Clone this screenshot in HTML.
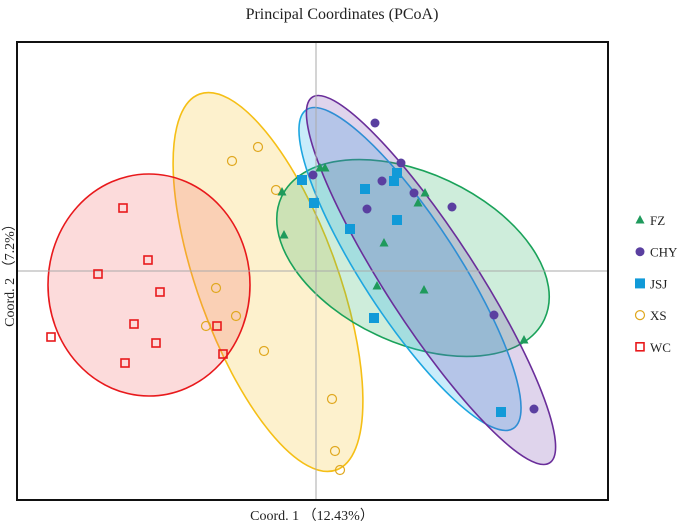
<!DOCTYPE html>
<html><head><meta charset="utf-8"><style>
body{margin:0;background:#fff}
svg{display:block;font-family:"Liberation Serif",serif}
</style></head><body>
<svg id="chart" width="685" height="525">
<text x="342" y="19" text-anchor="middle" font-size="16" fill="#222">Principal Coordinates (PCoA)</text>
<g id="ellipses"></g>
<line x1="17" y1="271" x2="608" y2="271" stroke="#aaa" stroke-width="1"/>
<line x1="316" y1="42" x2="316" y2="500" stroke="#aaa" stroke-width="1"/>
<g id="points"></g>
<rect x="17" y="42" width="591" height="458" fill="none" stroke="#111" stroke-width="2"/>
<text x="312" y="520" text-anchor="middle" font-size="14" fill="#222">Coord. 1 （12.43%）</text>
<text transform="translate(14,272) rotate(-90)" text-anchor="middle" font-size="14" fill="#222">Coord. 2 （7.2%）</text>
<g id="legend"></g>
</svg>
<script>
// data units: coord values (scaled)
const fzX=[0.004,0.009,-0.034,-0.032,0.109,0.102,0.068,0.061,0.108,0.208];
const fzY=[0.103,0.103,0.079,0.036,0.078,0.068,0.028,-0.015,-0.019,-0.069];
const chyX=[0.059,0.085,-0.003,0.066,0.098,0.136,0.051,0.178,0.218];
const chyY=[0.148,0.108,0.096,0.090,0.078,0.064,0.062,-0.044,-0.138];
const jsjX=[-0.014,-0.002,0.049,0.081,0.078,0.081,0.034,0.058,0.185];
const jsjY=[0.091,0.068,0.082,0.098,0.090,0.051,0.042,-0.047,-0.141];
const xsX=[-0.084,-0.058,-0.040,-0.100,-0.080,-0.110,-0.052,0.016,0.019,0.024];
const xsY=[0.110,0.124,0.081,-0.017,-0.045,-0.055,-0.080,-0.128,-0.180,-0.199];
const wcX=[-0.193,-0.168,-0.218,-0.156,-0.182,-0.099,-0.265,-0.160,-0.191,-0.093];
const wcY=[0.063,0.011,-0.003,-0.021,-0.053,-0.055,-0.066,-0.072,-0.092,-0.083];
const groups=["FZ","CHY","JSJ","XS","WC"];
// ellipse params in data units: cx, cy, rx, ry, angle
const ellCx=[0.097,0.115,0.094,-0.048,-0.167];
const ellCy=[0.013,-0.009,0.002,-0.011,-0.014];
const ellRx=[0.145,0.045,0.048,0.070,0.101];
const ellRy=[0.085,0.218,0.190,0.200,0.111];
const ellAng=[25,-33,-33,-20,0];

const NS="http://www.w3.org/2000/svg";
const sx=v=>316+v*1000, sy=v=>271-v*1000;
const stroke=["#1aa25a","#6a2e9a","#1da6e0","#f5bf16","#e8191c"];
const fill=["rgba(60,185,110,0.25)","rgba(110,60,170,0.22)","rgba(40,180,235,0.25)","rgba(250,210,90,0.3)","rgba(245,110,110,0.25)"];
const ellOrder=[3,4,0,2,1];
const eg=document.getElementById('ellipses');
ellOrder.forEach(i=>{
  const e=document.createElementNS(NS,'ellipse');
  const cx=sx(ellCx[i]),cy=sy(ellCy[i]);
  e.setAttribute('cx',cx);e.setAttribute('cy',cy);
  e.setAttribute('rx',ellRx[i]*1000);e.setAttribute('ry',ellRy[i]*1000);
  e.setAttribute('transform',`rotate(${ellAng[i]} ${cx} ${cy})`);
  e.setAttribute('fill',fill[i]);e.setAttribute('stroke',stroke[i]);e.setAttribute('stroke-width','1.6');
  
  
  eg.appendChild(e);
});
const mcol=["#1f9a5c","#5a3fa0","#119ad8","#e0a820","#e8191c"];
function marker(g,shape,x,y,col,name){
  let el;
  if(shape==0){el=document.createElementNS(NS,'polygon');el.setAttribute('points',`${x},${y-5} ${x-4.5},${y+3.5} ${x+4.5},${y+3.5}`);el.setAttribute('fill',col);}
  else if(shape==1){el=document.createElementNS(NS,'circle');el.setAttribute('cx',x);el.setAttribute('cy',y);el.setAttribute('r',4.5);el.setAttribute('fill',col);}
  else if(shape==2){el=document.createElementNS(NS,'rect');el.setAttribute('x',x-5);el.setAttribute('y',y-5);el.setAttribute('width',10);el.setAttribute('height',10);el.setAttribute('fill',col);}
  else if(shape==3){el=document.createElementNS(NS,'circle');el.setAttribute('cx',x);el.setAttribute('cy',y);el.setAttribute('r',4.5);el.setAttribute('fill','none');el.setAttribute('stroke',col);el.setAttribute('stroke-width','1.2');}
  else {el=document.createElementNS(NS,'rect');el.setAttribute('x',x-4);el.setAttribute('y',y-4);el.setAttribute('width',8);el.setAttribute('height',8);el.setAttribute('fill','none');el.setAttribute('stroke',col);el.setAttribute('stroke-width','1.6');}
  
  
  g.appendChild(el);
}
const pg=document.getElementById('points');
const XS=[fzX,chyX,jsjX,xsX,wcX],YS=[fzY,chyY,jsjY,xsY,wcY];
[3,4,0,1,2].forEach(i=>{
  XS[i].forEach((v,k)=>marker(pg,i,sx(v),sy(YS[i][k]),mcol[i],'point-'+groups[i].toLowerCase()));
});
const lg=document.getElementById('legend');
groups.forEach((gname,i)=>{
  const y=220+i*31.7;
  marker(lg,i,640,y,mcol[i],'legend-marker-'+gname.toLowerCase());
  const t=document.createElementNS(NS,'text');
  t.setAttribute('x',650);t.setAttribute('y',y+5);t.setAttribute('font-size','13');t.setAttribute('fill','#222');
  t.textContent=gname;
  
  
  lg.appendChild(t);
});
</script>
</body></html>
